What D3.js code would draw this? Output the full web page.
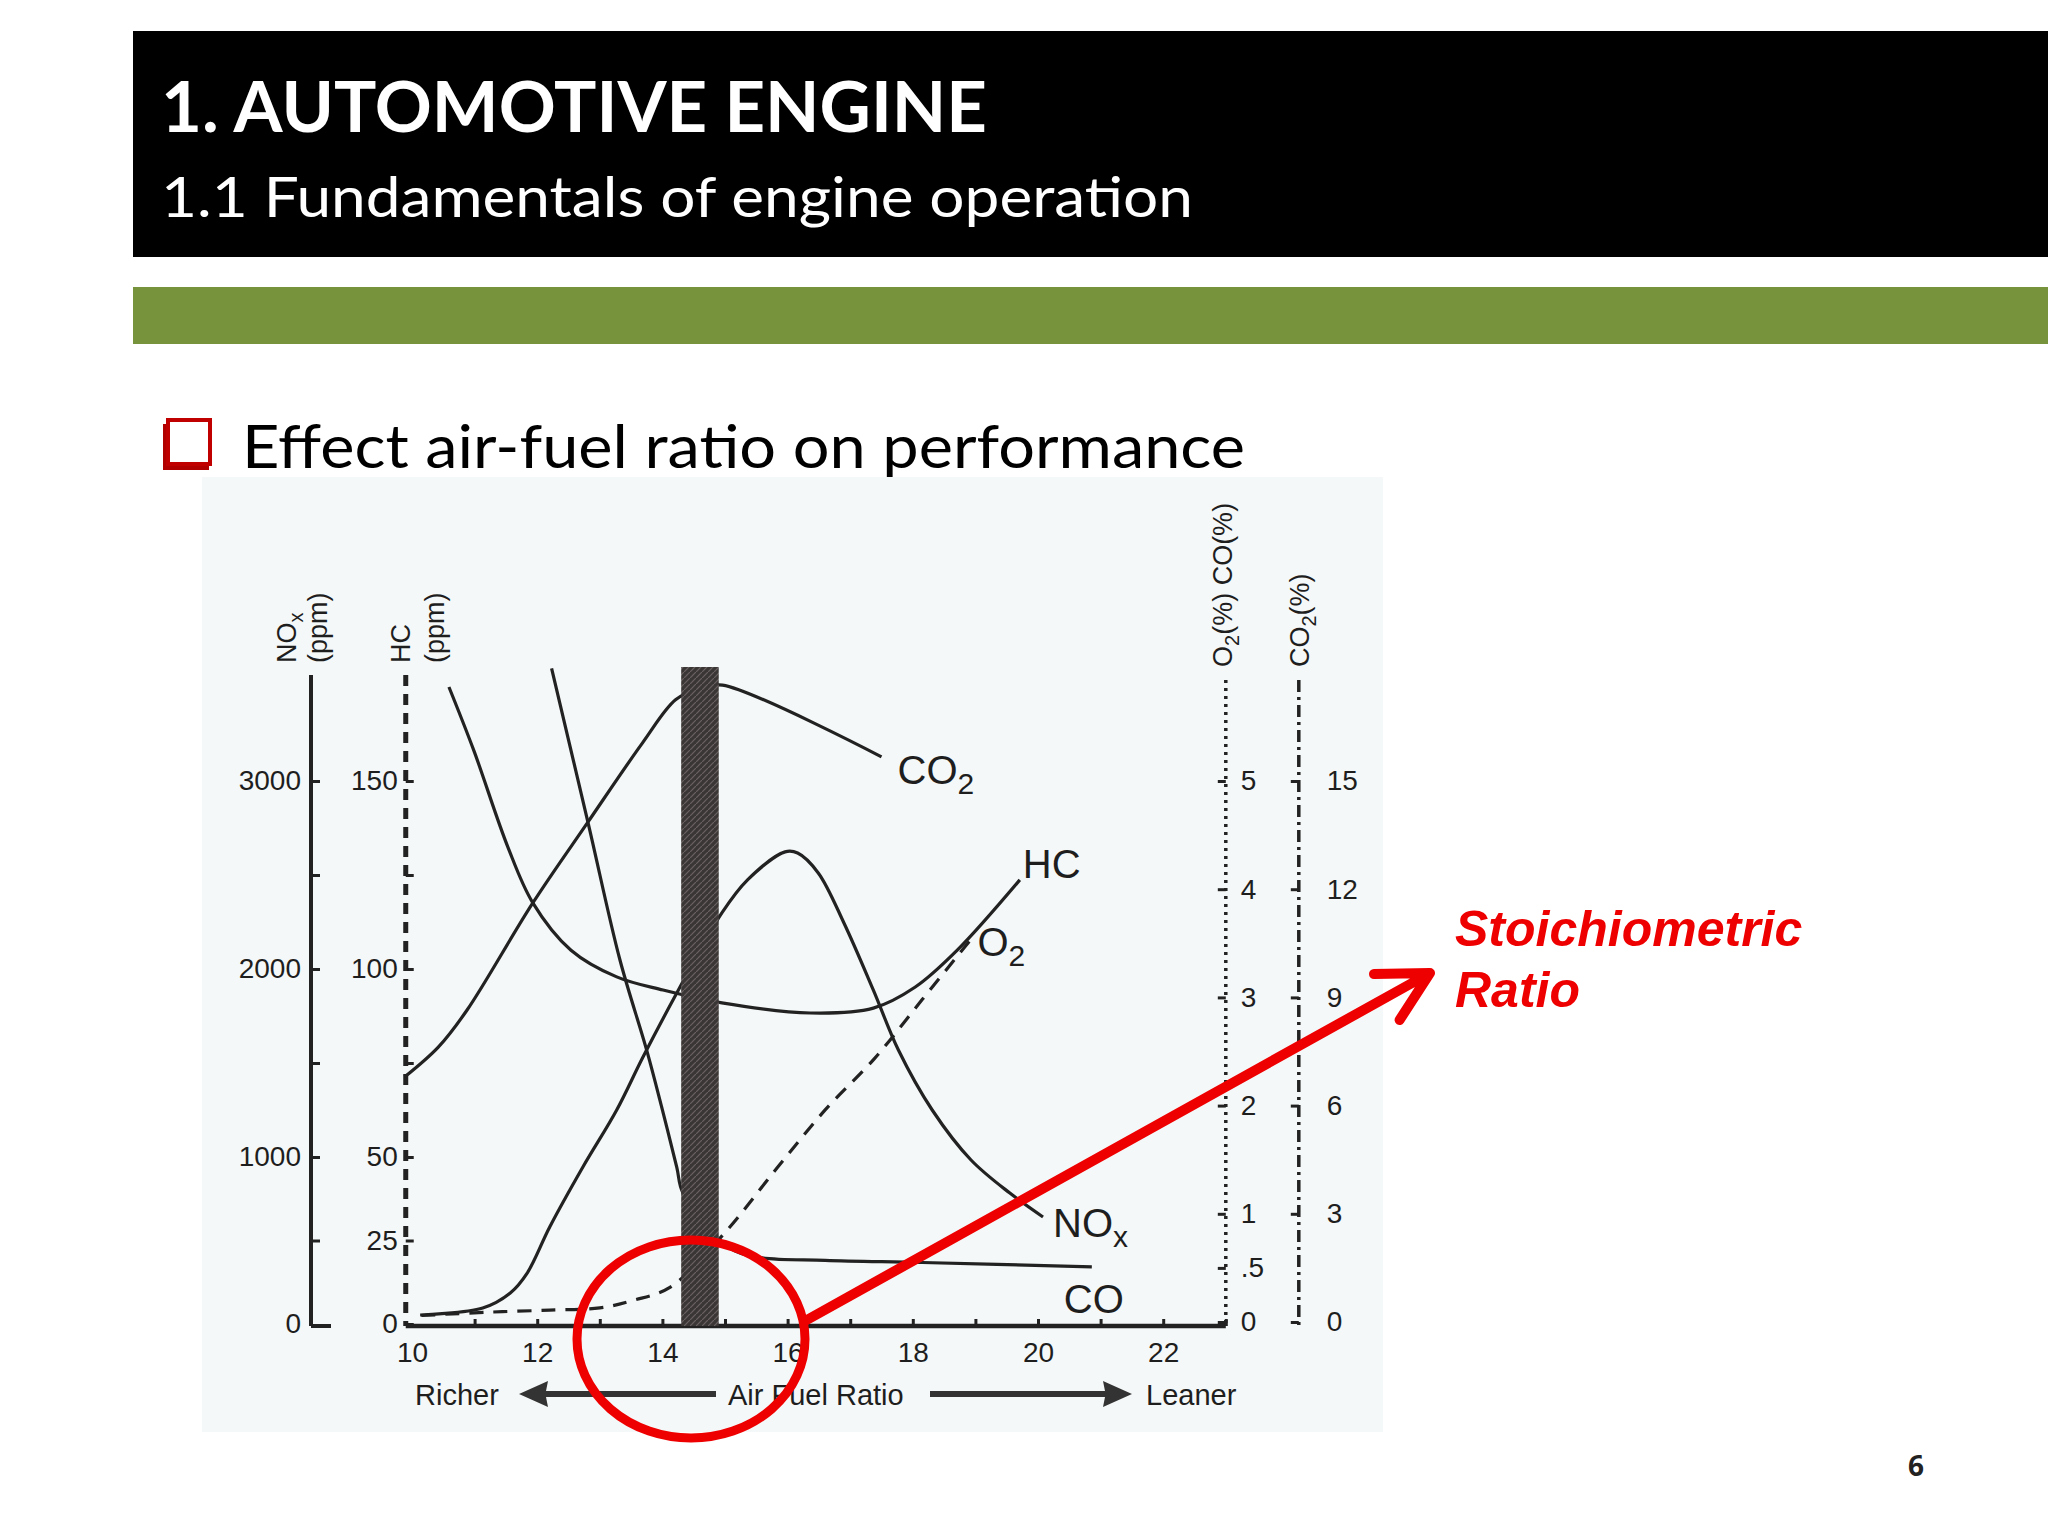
<!DOCTYPE html>
<html>
<head>
<meta charset="utf-8">
<script src="https://cdn.jsdelivr.net/npm/d3@7"></script>
<style>
  body { margin: 0; background: #fff; }
  svg { display: block; }
</style>
</head>
<body>
<svg id="slide" width="2048" height="1536"></svg>
<script>
// values (air-fuel ratio vs exhaust emissions)
const AFR_TICKS = [10, 12, 14, 16, 18, 20, 22];
const AFR_MINOR = [11, 12, 13, 14, 15, 16, 17, 18, 19, 20, 21, 22, 23];
const NOX_TICKS = [0, 1000, 2000, 3000];
const NOX_MINOR = [500, 1500, 2500];
const HC_TICKS = [0, 25, 50, 100, 150];
const HC_MINOR = [75, 125];
const PCT_TICKS = [0, 0.5, 1, 2, 3, 4, 5];
const PCT_LABELS = ["0", ".5", "1", "2", "3", "4", "5"];
const CO2_TICKS = [0, 3, 6, 9, 12, 15];
const STOICH_BAND = [14.3, 14.9];

// [air-fuel ratio, value]
const CO2_PTS = [[9.88, 6.79], [10.42, 7.62], [10.88, 8.65], [11.93, 11.62], [12.81, 13.86],
                 [13.68, 16.05], [14.21, 17.25], [14.6, 17.58], [14.96, 17.66], [17.5, 15.67]];
const HC_PTS = [[10.59, 175], [10.99, 158], [11.53, 132.5], [11.93, 117.6], [12.54, 105],
                [13.27, 97.9], [14.01, 94.4], [14.95, 91], [16.36, 88.3], [17.37, 89.6],
                [18.04, 95.2], [18.71, 105], [19.71, 123.7]];
const NOX_PTS = [[10.13, 54], [11.13, 96], [11.57, 186], [11.84, 305], [12.2, 581], [12.73, 940],
                 [13.27, 1250], [13.69, 1532], [14.23, 1872], [14.95, 2298], [15.36, 2474],
                 [15.96, 2623], [16.16, 2617], [16.49, 2511], [16.9, 2245], [17.37, 1888],
                 [17.77, 1569], [18.31, 1250], [18.93, 982], [19.55, 784], [20.08, 641]];
const CO_PTS = [[12.23, 6.04], [12.81, 4.62], [13.32, 3.35], [13.75, 2.51], [14.0, 1.96],
                [14.23, 1.43], [14.33, 1.19], [15.06, 0.69], [15.52, 0.60], [16.6, 0.57],
                [18.15, 0.55], [20.86, 0.51]];
const O2_PTS = [[10.15, 0.06], [11.2, 0.09], [12.2, 0.11], [13.0, 0.13], [13.53, 0.2],
                [14.12, 0.32], [14.99, 0.82], [15.84, 1.43], [16.6, 1.96], [17.38, 2.43],
                [18.15, 2.98], [18.92, 3.53]];

const FONT = "'Liberation Sans', Arial, Helvetica, sans-serif";
const INK = "#222";
const TXT = "#1e1e1e";
const RED = "#ee0000";

const SVG = d3.select("#slide");

// ---------- slide frame ----------
SVG.append("rect").attr("width", 2048).attr("height", 1536).attr("fill", "#fff");
SVG.append("rect").attr("x", 133).attr("y", 31).attr("width", 1915).attr("height", 226).attr("fill", "#000");
SVG.append("text").attr("x", 161).attr("y", 132)
    .attr("font-family", "Lato, sans-serif").attr("font-weight", 700).attr("font-size", 70)
    .attr("fill", "#fff").attr("textLength", 826).attr("lengthAdjust", "spacingAndGlyphs")
    .text("1. AUTOMOTIVE ENGINE");
SVG.append("text").attr("x", 161).attr("y", 217)
    .attr("font-family", "Lato, sans-serif").attr("font-size", 56)
    .attr("fill", "#fff").attr("textLength", 1032).attr("lengthAdjust", "spacingAndGlyphs")
    .text("1.1 Fundamentals of engine operation");
SVG.append("rect").attr("x", 133).attr("y", 287).attr("width", 1915).attr("height", 57).attr("fill", "#77933c");

// bullet
SVG.append("rect").attr("x", 163).attr("y", 424).attr("width", 7).attr("height", 46).attr("fill", "#b00000");
SVG.append("rect").attr("x", 163).attr("y", 463).attr("width", 46).attr("height", 7).attr("fill", "#b00000");
SVG.append("rect").attr("x", 168).attr("y", 420).attr("width", 42).attr("height", 44)
    .attr("fill", "none").attr("stroke", "#c00000").attr("stroke-width", 4);
SVG.append("text").attr("x", 242).attr("y", 468)
    .attr("font-family", "Lato, sans-serif").attr("font-size", 60).attr("fill", "#000")
    .attr("textLength", 1003).attr("lengthAdjust", "spacingAndGlyphs")
    .text("Effect air-fuel ratio on performance");

// scanned figure background
SVG.append("rect").attr("x", 202).attr("y", 477).attr("width", 1181).attr("height", 955).attr("fill", "#f5f8f8");

// ---------- scales ----------
const X = d3.scaleLinear().domain([10, 22]).range([412, 1163.2]);
const Y_NOX = d3.scaleLinear().domain([0, 1000, 3000]).range([1324, 1157, 781]);
const Y_HC = d3.scaleLinear().domain([0, 50, 150]).range([1324, 1157, 781]);
const Y_PCT = d3.scaleLinear().domain([0, 5]).range([1322, 781]);
const Y_CO2 = d3.scaleLinear().domain([0, 15]).range([1322, 781]);

const BASE_Y = 1326;
const TOP_Y = 675;
const NOX_AX = 311;
const HC_AX = X(9.9);
const O2_AX = X(23);
const CO2_AX = O2_AX + 73;

const CHART = SVG.append("g");

function styleAxis(g) {
    g.attr("font-family", FONT).attr("font-size", 28);
    g.selectAll(".domain").remove();
    g.selectAll("line").attr("stroke", INK).attr("stroke-width", 3);
    g.selectAll("text").attr("fill", TXT);
}

// NOx axis (solid)
CHART.append("line").attr("x1", NOX_AX).attr("x2", NOX_AX).attr("y1", TOP_Y).attr("y2", BASE_Y)
    .attr("stroke", INK).attr("stroke-width", 4);
CHART.append("line").attr("x1", NOX_AX).attr("x2", NOX_AX + 20).attr("y1", BASE_Y).attr("y2", BASE_Y)
    .attr("stroke", INK).attr("stroke-width", 4);
CHART.append("g").attr("transform", `translate(${NOX_AX},0)`)
    .call(d3.axisLeft(Y_NOX).tickValues(NOX_TICKS.slice(1)).tickSize(-9).tickPadding(10).tickFormat(d3.format("d")))
    .call(styleAxis);
CHART.append("g").attr("transform", `translate(${NOX_AX},0)`)
    .call(d3.axisLeft(Y_NOX).tickValues(NOX_MINOR).tickSize(-9).tickFormat(""))
    .call(styleAxis);
CHART.append("text").attr("x", NOX_AX - 10).attr("y", Y_NOX(0)).attr("dy", "0.32em")
    .attr("text-anchor", "end").attr("font-family", FONT).attr("font-size", 28).attr("fill", TXT).text("0");

// HC axis (dashed)
CHART.append("line").attr("x1", HC_AX).attr("x2", HC_AX).attr("y1", TOP_Y).attr("y2", BASE_Y)
    .attr("stroke", INK).attr("stroke-width", 5).attr("stroke-dasharray", "11 8");
CHART.append("g").attr("transform", `translate(${HC_AX},0)`)
    .call(d3.axisLeft(Y_HC).tickValues(HC_TICKS).tickSize(-8).tickPadding(8))
    .call(styleAxis);
CHART.append("g").attr("transform", `translate(${HC_AX},0)`)
    .call(d3.axisLeft(Y_HC).tickValues(HC_MINOR).tickSize(-8).tickFormat(""))
    .call(styleAxis);

// O2 / CO axis (dotted) and CO2 axis (dash-dot)
CHART.append("line").attr("x1", O2_AX).attr("x2", O2_AX).attr("y1", 680).attr("y2", BASE_Y)
    .attr("stroke", INK).attr("stroke-width", 3.5).attr("stroke-dasharray", "3 5");
CHART.append("g").attr("transform", `translate(${O2_AX},0)`)
    .call(d3.axisRight(Y_PCT).tickValues(PCT_TICKS).tickSize(-8).tickPadding(15)
        .tickFormat((d, i) => PCT_LABELS[i]))
    .call(styleAxis);
CHART.append("line").attr("x1", CO2_AX).attr("x2", CO2_AX).attr("y1", 680).attr("y2", BASE_Y)
    .attr("stroke", INK).attr("stroke-width", 3.5).attr("stroke-dasharray", "12 5 3 5");
CHART.append("g").attr("transform", `translate(${CO2_AX},0)`)
    .call(d3.axisRight(Y_CO2).tickValues(CO2_TICKS).tickSize(-8).tickPadding(28))
    .call(styleAxis);

// axis titles (rotated)
function vTitle(x, y, parts) {
    const t = CHART.append("text").attr("transform", `translate(${x},${y}) rotate(-90)`)
        .attr("font-family", FONT).attr("font-size", 27).attr("fill", TXT);
    parts.forEach(p => {
        t.append("tspan").attr("font-size", p.sub ? 20 : 27).attr("dy", p.sub ? 7 : (p.after ? -7 : 0)).text(p.t);
    });
}
vTitle(296, 663, [{t: "NO"}, {t: "x", sub: true}]);
vTitle(327, 663, [{t: "(ppm)"}]);
vTitle(410, 663, [{t: "HC"}]);
vTitle(444, 663, [{t: "(ppm)"}]);
vTitle(O2_AX + 6, 667, [{t: "O"}, {t: "2", sub: true}, {t: "(%)  CO(%)", after: true}]);
vTitle(CO2_AX + 10, 667, [{t: "CO"}, {t: "2", sub: true}, {t: "(%)", after: true}]);

// x axis
CHART.append("line").attr("x1", HC_AX).attr("x2", O2_AX).attr("y1", BASE_Y).attr("y2", BASE_Y)
    .attr("stroke", INK).attr("stroke-width", 4.5);
CHART.append("g").attr("transform", `translate(0,${BASE_Y})`)
    .call(d3.axisBottom(X).tickValues(AFR_MINOR).tickSize(-7).tickFormat(""))
    .call(styleAxis);
CHART.append("g").attr("transform", `translate(0,${BASE_Y})`)
    .call(d3.axisBottom(X).tickValues(AFR_TICKS).tickSize(0).tickPadding(16))
    .call(styleAxis);

// Richer <- Air Fuel Ratio -> Leaner
const ROW_Y = 1405;
function rowText(x, s) {
    CHART.append("text").attr("x", x).attr("y", ROW_Y).attr("font-family", FONT)
        .attr("font-size", 29).attr("fill", TXT).text(s);
}
rowText(415, "Richer");
rowText(728, "Air Fuel Ratio");
rowText(1146, "Leaner");
CHART.append("path").attr("fill", "#333")
    .attr("d", "M519,1394 L548,1381 L546,1391 L716,1391 L716,1397 L546,1397 L548,1407 Z");
CHART.append("path").attr("fill", "#333")
    .attr("d", "M1132,1394 L1103,1381 L1105,1391 L930,1391 L930,1397 L1105,1397 L1103,1407 Z");

// ---------- curves ----------
const curve = d3.curveCatmullRom.alpha(0.5);
const SERIES = [
    {pts: CO2_PTS, y: Y_CO2, dash: null},
    {pts: HC_PTS, y: Y_HC, dash: null},
    {pts: NOX_PTS, y: Y_NOX, dash: null},
    {pts: CO_PTS, y: Y_PCT, dash: null},
    {pts: O2_PTS, y: Y_PCT, dash: "14 10"}
];
SERIES.forEach(s => {
    CHART.append("path").datum(s.pts)
        .attr("fill", "none").attr("stroke", INK).attr("stroke-width", 3.2)
        .attr("stroke-dasharray", s.dash)
        .attr("d", d3.line().x(d => X(d[0])).y(d => s.y(d[1])).curve(curve));
});

// stoichiometric band
const defs = SVG.append("defs");
const pat = defs.append("pattern").attr("id", "grain").attr("width", 6).attr("height", 6)
    .attr("patternUnits", "userSpaceOnUse");
pat.append("rect").attr("width", 6).attr("height", 6).attr("fill", "#3b3636");
pat.append("path").attr("d", "M0,6 L6,0").attr("stroke", "#6a6262").attr("stroke-width", 1.2);
CHART.append("rect")
    .attr("x", X(STOICH_BAND[0])).attr("width", X(STOICH_BAND[1]) - X(STOICH_BAND[0]))
    .attr("y", 667).attr("height", BASE_Y - 667)
    .attr("fill", "url(#grain)");

// curve labels, offset from each series' last point
const LABELS = [
    {pts: CO2_PTS, y: Y_CO2, main: "CO", sub: "2", dx: 16, dy: 27},
    {pts: HC_PTS, y: Y_HC, main: "HC", sub: "", dx: 3, dy: -2},
    {pts: O2_PTS, y: Y_PCT, main: "O", sub: "2", dx: 7, dy: 16},
    {pts: NOX_PTS, y: Y_NOX, main: "NO", sub: "x", dx: 10, dy: 20},
    {pts: CO_PTS, y: Y_PCT, main: "CO", sub: "", dx: -28, dy: 46}
];
LABELS.forEach(l => {
    const last = l.pts[l.pts.length - 1];
    const t = CHART.append("text").attr("x", X(last[0]) + l.dx).attr("y", l.y(last[1]) + l.dy)
        .attr("font-family", FONT).attr("font-size", 40).attr("fill", TXT);
    t.append("tspan").text(l.main);
    if (l.sub) t.append("tspan").attr("font-size", 30).attr("dy", 10).text(l.sub);
});

// ---------- red annotation ----------
SVG.append("ellipse").attr("cx", 691).attr("cy", 1339).attr("rx", 114).attr("ry", 99)
    .attr("fill", "none").attr("stroke", RED).attr("stroke-width", 9);
const A0 = [805, 1321], A1 = [1430, 973];
const ang = Math.atan2(A1[1] - A0[1], A1[0] - A0[0]);
const head = 56, spread = 28 * Math.PI / 180;
const arm = s => [A1[0] - head * Math.cos(ang + s), A1[1] - head * Math.sin(ang + s)];
SVG.append("path")
    .attr("d", `M${A0}L${A1}M${arm(spread)}L${A1}L${arm(-spread)}`)
    .attr("fill", "none").attr("stroke", RED).attr("stroke-width", 10)
    .attr("stroke-linecap", "round").attr("stroke-linejoin", "round");
SVG.append("text").attr("x", 1455).attr("y", 946)
    .attr("font-family", FONT).attr("font-weight", 700).attr("font-style", "italic")
    .attr("font-size", 50).attr("fill", RED).text("Stoichiometric");
SVG.append("text").attr("x", 1455).attr("y", 1007)
    .attr("font-family", FONT).attr("font-weight", 700).attr("font-style", "italic")
    .attr("font-size", 50).attr("fill", RED).text("Ratio");

// page number
SVG.append("text").attr("x", 1916).attr("y", 1476).attr("text-anchor", "middle")
    .attr("font-family", "'Open Sans', sans-serif").attr("font-weight", 700)
    .attr("font-size", 28).attr("fill", "#222").text("6");
</script>
</body>
</html>
